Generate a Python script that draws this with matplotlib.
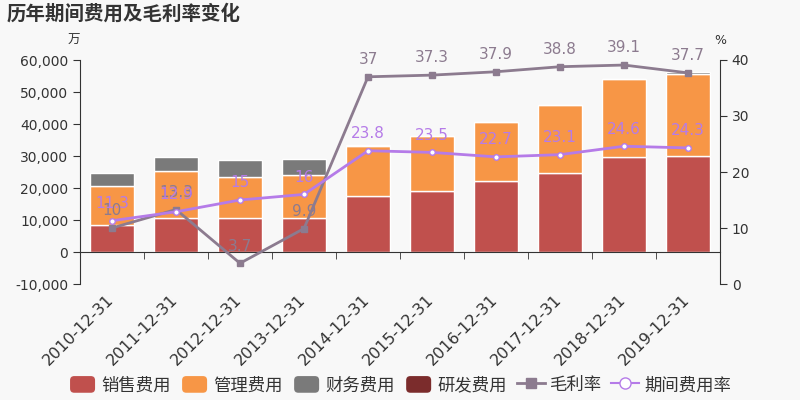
import matplotlib
matplotlib.use('Agg')
import matplotlib.pyplot as plt
import matplotlib.transforms as mtrans
import numpy as np
from matplotlib.patches import Patch, FancyBboxPatch
from matplotlib.lines import Line2D
from matplotlib.legend_handler import HandlerPatch
from matplotlib.ticker import FuncFormatter

plt.rcParams['font.family'] = ['DejaVu Sans', 'Noto Sans CJK SC']

years = ['2010-12-31', '2011-12-31', '2012-12-31', '2013-12-31', '2014-12-31',
         '2015-12-31', '2016-12-31', '2017-12-31', '2018-12-31', '2019-12-31']
sales = [8500, 10700, 10600, 10700, 17500, 19000, 22100, 24600, 29600, 29900]
admin = [12100, 14500, 12900, 13300, 15600, 17300, 18600, 21400, 24400, 25600]
finance = [4000, 4600, 5300, 5000, 200, 0, -400, -400, -400, 600]
rnd = [0, 0, 0, 0, 0, 0, 0, 0, 0, 0]
gross_margin = [10, 13.3, 3.7, 9.9, 37, 37.3, 37.9, 38.8, 39.1, 37.7]
expense_rate = [11.3, 12.9, 15, 16, 23.8, 23.5, 22.7, 23.1, 24.6, 24.3]

c_sales = '#c0504d'
c_admin = '#f79646'
c_fin = '#7a7a7a'
c_rnd = '#7b2c2c'
c_gm = '#8c7b8f'
c_er = '#b57be8'
txt = '#333333'

fig = plt.figure(figsize=(8, 4), dpi=100, facecolor='#f8f8f8')
ax = fig.add_axes([0.1, 0.29, 0.8, 0.56])
ax.set_facecolor('#f8f8f8')
x = np.arange(len(years))
w = 0.7
edge = dict(edgecolor='#ffffff', linewidth=1.0)

sales = np.array(sales); admin = np.array(admin)
finance = np.array(finance); rnd = np.array(rnd)
ax.bar(x, sales, w, color=c_sales, **edge)
ax.bar(x, admin, w, bottom=sales, color=c_admin, **edge)
fin_pos = np.where(finance > 0, finance, 0)
fin_neg = np.where(finance < 0, finance, 0)
ax.bar(x, fin_pos, w, bottom=sales + admin, color=c_fin, **edge)
ax.bar(x, fin_neg, w, color=c_fin, linewidth=0)
ax.bar(x, rnd, w, bottom=sales + admin + fin_pos, color=c_rnd, linewidth=0)

ax.set_xlim(-0.5, len(years) - 0.5)
ax.set_ylim(-10000, 60000)
ax.set_yticks(np.arange(-10000, 60001, 10000))
ax.yaxis.set_major_formatter(FuncFormatter(lambda v, p: '{:,.0f}'.format(v)))
ax.tick_params(axis='y', colors=txt, labelsize=10, length=5, direction='out')
ax.spines['top'].set_visible(False)
ax.spines['right'].set_visible(False)
ax.spines['left'].set_color(txt)
ax.spines['bottom'].set_position(('data', 0))
ax.spines['bottom'].set_color(txt)

ax.set_xticks(x)
ax.set_xticklabels(years, rotation=45, ha='right', rotation_mode='anchor')
ax.tick_params(axis='x', which='major', length=0, pad=29, labelsize=11.5, colors=txt)
shift = mtrans.ScaledTranslation(-6 / 100, 0, fig.dpi_scale_trans)
for lb in ax.get_xticklabels():
    lb.set_transform(lb.get_transform() + shift)
ax.set_xticks(np.arange(0.5, len(years) - 1, 1), minor=True)
ax.tick_params(axis='x', which='minor', length=5, color=txt, direction='out')

ax2 = ax.twinx()
ax2.set_ylim(0, 40)
ax2.set_yticks([0, 10, 20, 30, 40])
ax2.tick_params(axis='y', colors=txt, labelsize=10, length=5)
for s in ['top', 'left', 'bottom']:
    ax2.spines[s].set_visible(False)
ax2.spines['right'].set_color(txt)

ax2.plot(x, gross_margin, color=c_gm, lw=2, marker='s', ms=4, zorder=3)
ax2.plot(x, expense_rate, color=c_er, lw=2, marker='o', ms=4,
         markerfacecolor='white', markeredgecolor=c_er, zorder=4)
for i in range(len(x)):
    ax2.annotate(str(gross_margin[i]), (x[i], gross_margin[i]), xytext=(0, 7),
                 textcoords='offset points', ha='center', va='bottom',
                 color=c_gm, fontsize=11)
    ax2.annotate(str(expense_rate[i]), (x[i], expense_rate[i]), xytext=(0, 7),
                 textcoords='offset points', ha='center', va='bottom',
                 color=c_er, fontsize=11)

fig.text(0.008, 0.965, '历年期间费用及毛利率变化', fontsize=14, fontweight='bold',
         color=txt, va='center', family=['Noto Sans CJK SC'])
fig.text(0.1, 0.9, '万', fontsize=9, color=txt, ha='right', va='center',
         family=['Noto Sans CJK SC'])
fig.text(0.9, 0.9, '%', fontsize=9, color=txt, ha='center', va='center')


class RoundPatch(HandlerPatch):
    def create_artists(self, legend, orig, xd, yd, width, height, fontsize, trans):
        p = FancyBboxPatch((-xd + 1, -yd), width - 2, height,
                           boxstyle='round,pad=0,rounding_size=3',
                           facecolor=orig.get_facecolor(), edgecolor='none',
                           transform=trans)
        return [p]


handles = [Patch(color=c_sales), Patch(color=c_admin), Patch(color=c_fin), Patch(color=c_rnd),
           Line2D([], [], color=c_gm, lw=2, marker='s', ms=7),
           Line2D([], [], color=c_er, lw=1.5, marker='o', ms=8,
                  markerfacecolor='white', markeredgecolor=c_er)]
labels = ['销售费用', '管理费用', '财务费用', '研发费用', '毛利率', '期间费用率']
fig.legend(handles, labels, loc='center', bbox_to_anchor=(0.5, 0.037), ncol=6,
           frameon=False, handlelength=1.6, handleheight=1.1,
           handletextpad=0.3, columnspacing=0.55, labelcolor=txt,
           handler_map={Patch: RoundPatch()},
           prop={'family': ['Noto Sans CJK SC'], 'size': 12.5})

fig.savefig('out.png', dpi=100, facecolor=fig.get_facecolor())
